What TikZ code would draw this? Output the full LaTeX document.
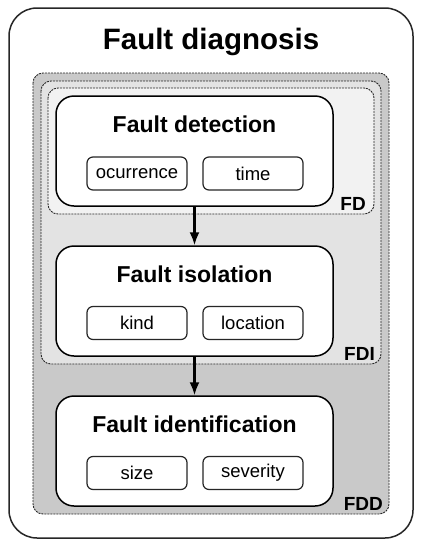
\documentclass[tikz,border=0pt]{standalone}
\usepackage{fontspec}
\setmainfont{Liberation Sans}
\usetikzlibrary{arrows.meta}

\tikzset{
  stagebox/.style={draw=black, line width=1.5pt, fill=white, rounded corners=18pt,
    minimum width=277pt, minimum height=110pt, inner sep=0pt},
  itembox/.style={draw=black!85, line width=1.2pt, fill=white, rounded corners=6pt,
    minimum width=100pt, minimum height=33pt, inner sep=0pt, font=\fontsize{18.5}{20}\selectfont},
  stagetitle/.style={font=\fontsize{23}{26}\selectfont\bfseries},
  zonetag/.style={font=\fontsize{19}{21}\selectfont\bfseries, anchor=south east, inner sep=0pt},
  zone/.style={draw=black!85, line width=0.9pt, dash pattern=on 2pt off 1pt, rounded corners=10pt},
  flow/.style={-{Latex[length=13pt,width=10pt]}, line width=2.2pt}
}

\begin{document}
\begin{tikzpicture}[x=1pt,y=-1pt]
  \useasboundingbox (0,0) rectangle (424,550);

  % outer frame
  \draw[black!85, line width=1.5pt, fill=white, rounded corners=28pt] (9,8) rectangle (413,538);
  \node[font=\fontsize{29.5}{32}\selectfont\bfseries] (diagtitle) at (211,42) {Fault diagnosis};

  % nested zones
  \draw[zone, fill=black!21] (33,73) rectangle (389,514);
  \draw[zone, fill=black!11] (41,81) rectangle (381,364);
  \draw[zone, fill=black!5] (48,88) rectangle (374,214);

  \node[zonetag] (fdtag) at (366,211) {FD};
  \node[zonetag] (fditag) at (375,361) {FDI};
  \node[zonetag] (fddtag) at (383,511) {FDD};

  % stages
  \node[stagebox] (detection) at (194.5,151) {};
  \node[stagebox] (isolation) at (194.5,301) {};
  \node[stagebox] (identification) at (194.5,451) {};

  \node[stagetitle] (dettitle) at (194.5,124) {Fault detection};
  \node[stagetitle] (isotitle) at (194.5,274) {Fault isolation};
  \node[stagetitle] (idtitle) at (194.5,424) {Fault identification};

  % attributes
  \node[itembox] (occurrence) at (137,173.5) {ocurrence};
  \node[itembox] (time) at (253,173.5) {time};
  \node[itembox] (kind) at (137,323) {kind};
  \node[itembox] (location) at (253,323) {location};
  \node[itembox] (size) at (137,473) {size};
  \node[itembox] (severity) at (253,473) {severity};

  % flow
  \draw[flow] (detection.south) -- (isolation.north);
  \draw[flow] (isolation.south) -- (identification.north);

\end{tikzpicture}
\end{document}
